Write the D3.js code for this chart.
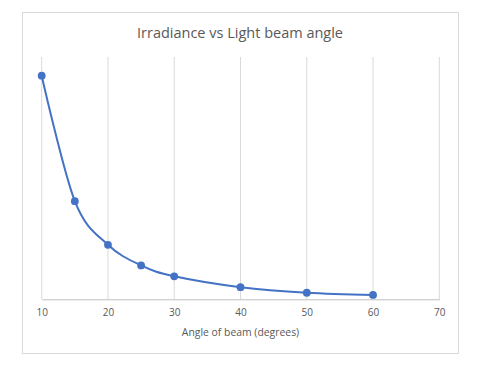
<!DOCTYPE html>
<html><head><meta charset="utf-8">
<script src="https://cdn.jsdelivr.net/npm/d3@7"></script>
<style>body{margin:0;background:#fff}svg{display:block}</style>
</head><body>
<script>
const angles = [10, 15, 20, 25, 30, 40, 50, 60];
const irradiance = [923, 405, 225, 140, 95, 50, 27, 18];
const xTicks = [10, 20, 30, 40, 50, 60, 70];
const title = "Irradiance vs Light beam angle";
const xTitle = "Angle of beam (degrees)";

const W = 480, H = 369;
const svg = d3.select("body").append("svg").attr("width", W).attr("height", H);
svg.append("rect").attr("width", W).attr("height", H).attr("fill", "#fff");
svg.append("rect").attr("x", 22.5).attr("y", 12.5).attr("width", 436).attr("height", 341)
  .attr("fill", "#fff").attr("stroke", "#d9d9d9").attr("stroke-width", 1);

const x = d3.scaleLinear().domain([10, 70]).range([41.7, 439.3]);
const y = d3.scaleLinear().domain([0, 1000]).range([299.3, 57]);

const g = svg.append("g");
g.selectAll("line.grid").data(xTicks).join("line")
  .attr("x1", d => x(d)).attr("x2", d => x(d))
  .attr("y1", y(1000)).attr("y2", y(0))
  .attr("stroke", "#d9d9d9").attr("stroke-width", 1);
const xAxis = d3.axisBottom(x).tickValues(xTicks).tickSize(0).tickPadding(10);
const ax = svg.append("g").attr("transform", `translate(0,${y(0)})`).call(xAxis);
ax.select(".domain").attr("stroke", "#bfbfbf").attr("stroke-width", 1);
ax.selectAll("text").attr("fill", "#595959").attr("font-family", "Open Sans, sans-serif").attr("font-size", 10);

const line = d3.line().x((d, i) => x(angles[i])).y(d => y(d)).curve(d3.curveCatmullRom.alpha(0));
svg.append("path").datum(irradiance).attr("d", line)
  .attr("fill", "none").attr("stroke", "#4472C4").attr("stroke-width", 2);
svg.selectAll("circle.pt").data(irradiance).join("circle")
  .attr("cx", (d, i) => x(angles[i])).attr("cy", d => y(d)).attr("r", 3.9)
  .attr("fill", "#4472C4");

svg.append("text").attr("x", 240).attr("y", 38).attr("text-anchor", "middle")
  .attr("fill", "#595959").attr("font-family", "Open Sans, sans-serif").attr("font-size", 14.5)
  .text(title);
svg.append("text").attr("x", 240.5).attr("y", 336).attr("text-anchor", "middle")
  .attr("fill", "#595959").attr("font-family", "Open Sans, sans-serif").attr("font-size", 10.4)
  .text(xTitle);
</script>
</body></html>
